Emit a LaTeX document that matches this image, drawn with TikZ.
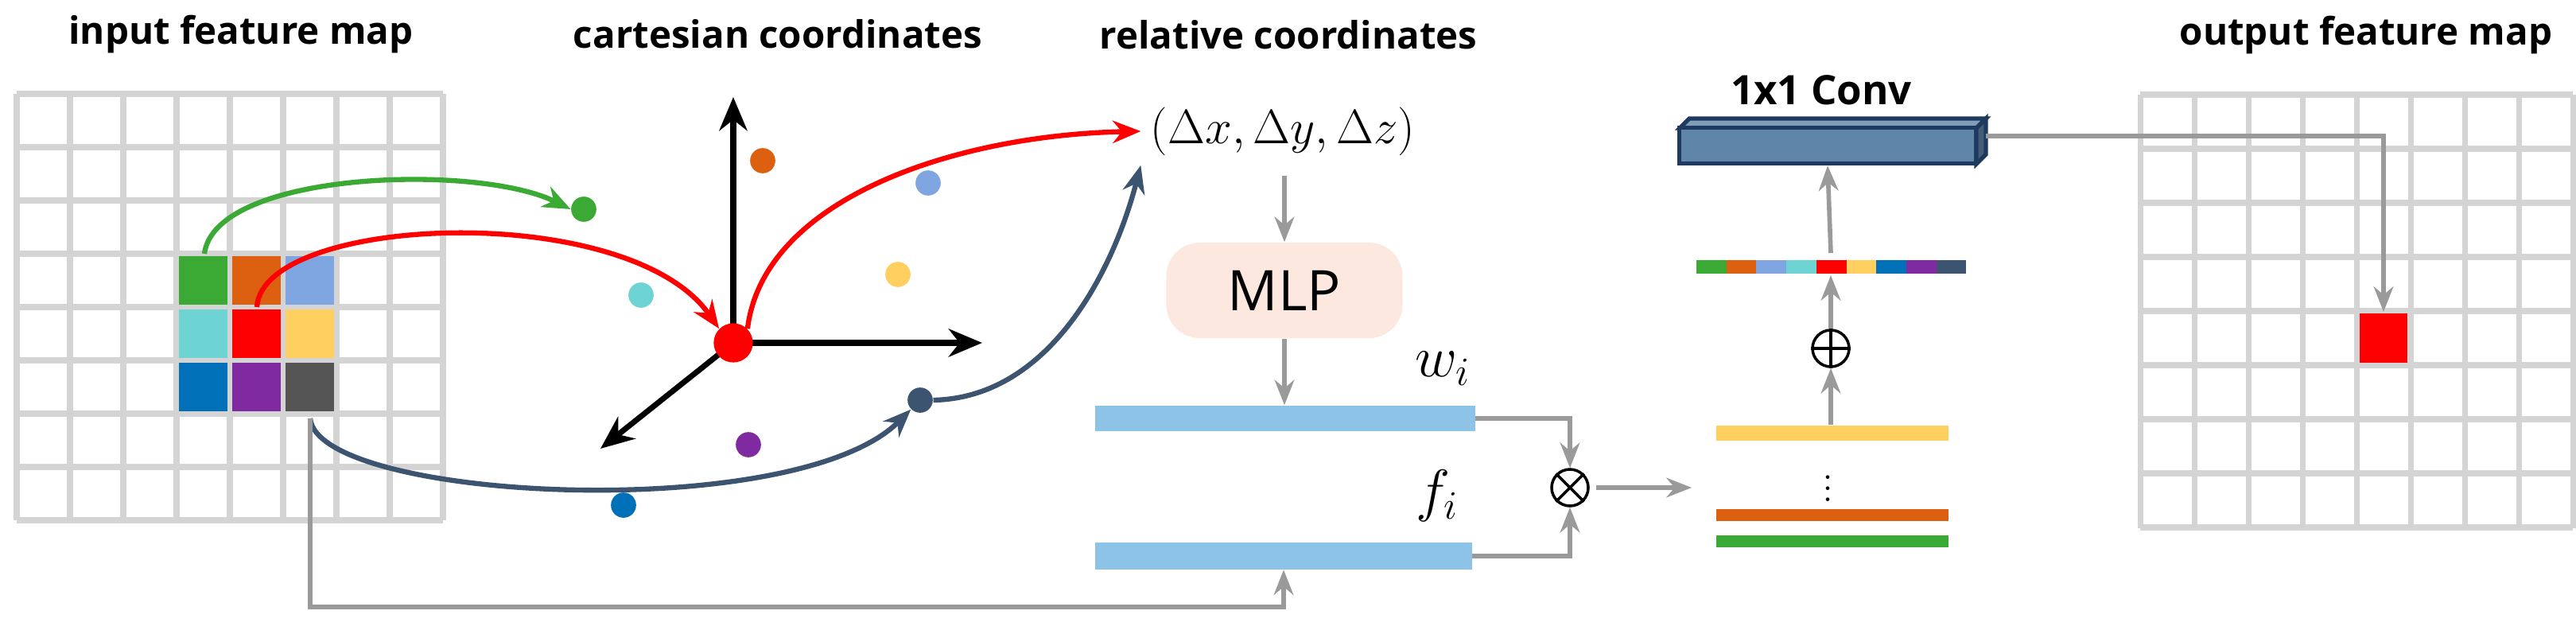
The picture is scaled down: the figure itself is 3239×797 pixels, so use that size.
\documentclass[tikz,border=0pt]{standalone}
\usepackage{fontspec}
\setsansfont{Open Sans}
\usetikzlibrary{arrows.meta}
\definecolor{cgreen}{HTML}{3AAA35}
\definecolor{corange}{HTML}{DD6010}
\definecolor{clblue}{HTML}{7FA6E0}
\definecolor{ccyan}{HTML}{6DD3D3}
\definecolor{cyellow}{HTML}{FFD060}
\definecolor{cblue}{HTML}{0070B8}
\definecolor{cpurple}{HTML}{7F2AA0}
\definecolor{cgray}{HTML}{555555}
\definecolor{cslate}{HTML}{3D5470}
\definecolor{gridc}{HTML}{D4D4D4}
\definecolor{barc}{HTML}{8EC3E8}
\definecolor{mlpc}{HTML}{FDE8DF}
\definecolor{convc}{HTML}{5F86A8}
\definecolor{convd}{HTML}{1F3A5F}
\definecolor{arrg}{HTML}{9A9A9A}
\tikzset{
  title/.style={font=\sffamily\bfseries\fontsize{13.5}{16}\selectfont},
  garrow/.style={draw=arrg,line width=1.6pt,-{Stealth[length=9pt,width=7pt]}},
  carrow/.style={line width=1.8pt,-{Stealth[length=10pt,width=8pt]}},
  dotn/.style={circle,inner sep=0pt,minimum size=9pt},
}
\begin{document}
\begin{tikzpicture}[x=0.01cm,y=-0.01cm]
\useasboundingbox (0,0) rectangle (3239,797);
% titles
\node[title] (t1) at (303,43) {input feature map};
\node[title] (t2) at (978,43) {cartesian coordinates};
\node[title] (t3) at (1620,44) {relative coordinates};
\node[title] (t4) at (2975,44) {output feature map};
% input grid
\foreach \i in {0,...,8} {\draw[gridc,line width=2pt] ({21+\i*67},118) -- ({21+\i*67},654); \draw[gridc,line width=2pt] (21,{118+\i*67}) -- (557,{118+\i*67});}
\foreach \c/\r/\col in {3/3/cgreen,4/3/corange,5/3/clblue,3/4/ccyan,4/4/red,5/4/cyellow,3/5/cblue,4/5/cpurple,5/5/cgray}
  \fill[\col] ({21+\c*67+3},{118+\r*67+3}) rectangle ++(61,61);
\coordinate (gtop) at (257,319);
\coordinate (rtop) at (323,386);
\coordinate (dbot) at (390,526);
% output grid
\foreach \i in {0,...,8} {\draw[gridc,line width=2pt] ({2691+\i*68},119) -- ({2691+\i*68},664); \draw[gridc,line width=2pt] (2691,{119+\i*68}) -- (3235,{119+\i*68});}
\fill[red] (2967,394) rectangle (3027,456);
\coordinate (outtop) at (2997,392);
% axes
\coordinate (oc) at (922,431);
\coordinate (ay) at (922,122);
\coordinate (ax) at (1235,431);
\coordinate (az) at (755,564);
\draw[line width=2pt,-{Stealth[length=12pt,width=10pt]}] (oc) -- (ay);
\draw[line width=2pt,-{Stealth[length=12pt,width=10pt]}] (oc) -- (ax);
\draw[line width=2pt,-{Stealth[length=12pt,width=10pt]}] (oc) -- (az);
\node[dotn,fill=red,minimum size=14pt] (o) at (oc) {};
% dots
\node[dotn,fill=corange] (dor) at (959,202) {};
\node[dotn,fill=clblue] (dlb) at (1167,230) {};
\node[dotn,fill=cyellow] (dye) at (1129,345) {};
\node[dotn,fill=ccyan] (dcy) at (806,371) {};
\node[dotn,fill=cgreen] (dgr) at (734,263) {};
\node[dotn,fill=cpurple] (dpu) at (941,559) {};
\node[dotn,fill=cblue] (dbl) at (784,635) {};
\node[dotn,fill=cslate] (dsl) at (1157,503) {};
% relative coords
\node[font=\fontsize{19}{22}\selectfont] (rel) at (1613,165) {$(\Delta x,\Delta y,\Delta z)$};
% curves
\draw[carrow,cgreen] (gtop) .. controls (270,215) and (600,205) .. (dgr.west);
\draw[carrow,red] (rtop) .. controls (330,270) and (790,250) .. (o.north west);
\draw[carrow,red] (o.north east) .. controls (960,250) and (1200,170) .. (rel.west);
\draw[carrow,cslate] (dbot) .. controls (400,630) and (1000,660) .. (dsl.south west);
\draw[carrow,cslate] (dsl.east) .. controls (1320,500) and (1400,340) .. (rel.south west);
% MLP
\node[fill=mlpc,rounded corners=12pt,inner sep=0pt,font=\sffamily\fontsize{20}{24}\selectfont,minimum width=2.97cm,minimum height=1.2cm] (mlp) at (1615,365) {MLP};
\draw[garrow] (1615,221) -- (mlp.north);
\node[fill=barc,inner sep=0pt,minimum width=4.77cm,minimum height=0.32cm] (wbar) at (1616,526) {};
\node[fill=barc,inner sep=0pt,minimum width=4.73cm,minimum height=0.33cm] (fbar) at (1614,699) {};
\draw[garrow] (mlp.south) -- (mlp.south |- wbar.north);
\node[font=\fontsize{20}{22}\selectfont] (wl) at (1814,463) {$w_i$};
\node[font=\fontsize{20}{22}\selectfont] (fl) at (1807,623) {$f_i$};
\node[circle,draw=black,line width=1pt,inner sep=0pt,minimum size=0.46cm] (mul) at (1974,613) {};
\draw[line width=1pt] (mul.north west) -- (mul.south east) (mul.north east) -- (mul.south west);
\draw[garrow] (wbar.east) -| (mul.north);
\draw[garrow] (fbar.east) -| (mul.south);
\draw[garrow] (dbot) -- (390,763) -| (fbar.south);
% stack
\node[fill=cyellow,inner sep=0pt,minimum width=2.92cm,minimum height=0.19cm] (ybar) at (2304,544) {};
\node[fill=corange,inner sep=0pt,minimum width=2.92cm,minimum height=0.15cm] (obar) at (2304,647) {};
\node[fill=cgreen,inner sep=0pt,minimum width=2.92cm,minimum height=0.15cm] (gbar) at (2304,680) {};
\node[font=\fontsize{16}{18}\selectfont,inner sep=0pt] (vd) at (2299,604) {$\vdots$};
\coordinate (stackl) at (2127,613);
\draw[garrow] (mul.east) ++(8,0) -- (stackl);
\node[circle,draw=black,line width=1pt,inner sep=0pt,minimum size=0.46cm] (add) at (2302,438) {};
\draw[line width=1pt] (add.north) -- (add.south) (add.west) -- (add.east);
\draw[garrow] (ybar.north -| add) -- (add.south);
% concat bar
\foreach \i/\col in {0/cgreen,1/corange,2/clblue,3/ccyan,4/red,5/cyellow,6/cblue,7/cpurple,8/cslate}
  \fill[\col] ({2133+\i*37.7},327) rectangle ++(37.7,17);
\coordinate (cbtop) at (2302,318);
\coordinate (cbbot) at (2302,346);
\draw[garrow] (add.north) -- (cbbot);
% conv box
\fill[convc!80!white,draw=convd,line width=1.5pt] (2112,161) -- (2124,149) -- (2497,149) -- (2485,161) -- cycle;
\fill[convc!70!black,draw=convd,line width=1.5pt] (2485,161) -- (2497,149) -- (2497,194) -- (2485,206) -- cycle;
\node[fill=convc,draw=convd,line width=1.5pt,inner sep=0pt,minimum width=3.73cm,minimum height=0.45cm] (conv) at (2298,183) {};
\node[font=\sffamily\bfseries\fontsize{14.5}{17}\selectfont] (convl) at (2290,113) {1x1 Conv};
\draw[garrow] (cbtop) -- (conv.south);
\draw[garrow] (2497,171) -| (outtop);
\end{tikzpicture}
\end{document}
